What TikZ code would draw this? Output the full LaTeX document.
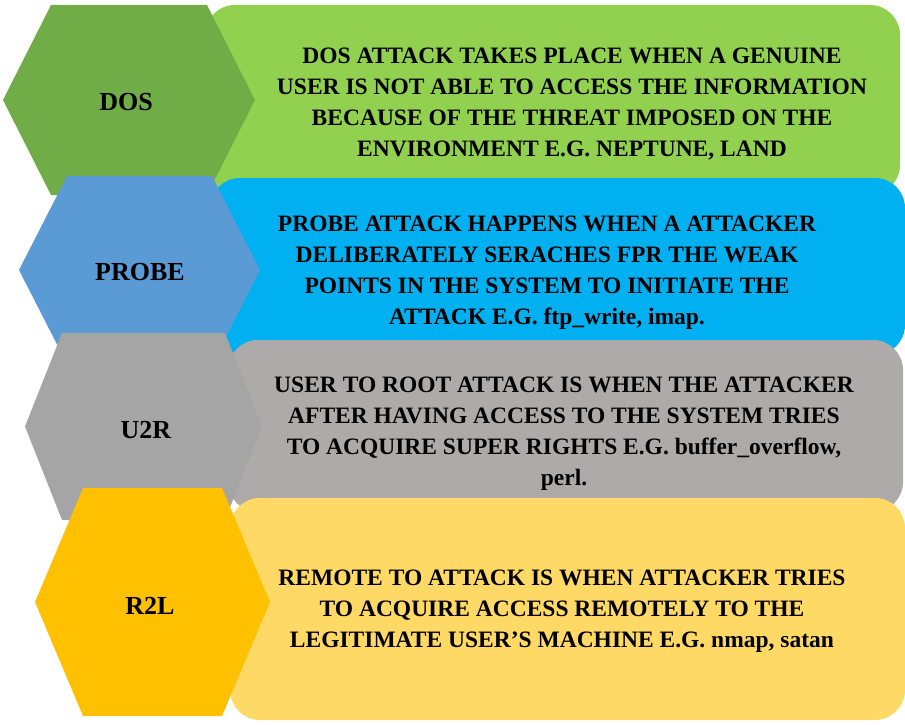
\documentclass[tikz,border=0pt]{standalone}
\usepackage{fontspec}
\setmainfont{Liberation Serif}
\begin{document}
\begin{tikzpicture}[x=1pt,y=-1pt,
 txt/.style={font=\bfseries\fontsize{23.5}{31}\selectfont,align=center,text=black},
 lab/.style={font=\bfseries\fontsize{26}{30}\selectfont,text=black}]
\useasboundingbox (0,0) rectangle (905,725);
\newcommand{\hexa}[6]{% fill, x1, x2, ytop, ybot, inset
 \fill[#1] ({#2+#6},#4) -- ({#3-#6},#4) -- (#3,{(#4+#5)/2}) -- ({#3-#6},#5) -- ({#2+#6},#5) -- (#2,{(#4+#5)/2}) -- cycle;}
\definecolor{g1}{HTML}{92D050}\definecolor{g2}{HTML}{70AD47}
\definecolor{b1}{HTML}{00B0F0}\definecolor{b2}{HTML}{5B9BD5}
\definecolor{a1}{HTML}{AEAAAA}\definecolor{a2}{HTML}{A5A5A5}
\definecolor{y1}{HTML}{FFD966}\definecolor{y2}{HTML}{FFC000}
% row 1
\fill[g1,rounded corners=30] (205,5) rectangle (900,195);
\hexa{g2}{3}{255}{5}{195}{48}
\node[lab] (dos) at (126,102) {DOS};
\node[txt] (t1) at (572,104) {DOS ATTACK TAKES PLACE WHEN A GENUINE\\USER IS NOT ABLE TO ACCESS THE INFORMATION\\BECAUSE OF THE THREAT IMPOSED ON THE\\ENVIRONMENT E.G. NEPTUNE, LAND};
% row 2
\fill[b1,rounded corners=30] (210,178) rectangle (905,355);
\hexa{b2}{19}{260}{176}{364}{48}
\node[lab] (probe) at (140,272) {PROBE};
\node[txt] (t2) at (547,273) {PROBE ATTACK HAPPENS WHEN A ATTACKER\\DELIBERATELY SERACHES FPR THE WEAK\\POINTS IN THE SYSTEM TO INITIATE THE\\ATTACK E.G. ftp\_write, imap.};
% row 3
\fill[a1,rounded corners=30] (228,340) rectangle (903,512);
\hexa{a2}{25}{262}{333}{520}{37}
\node[lab] (u2r) at (146,430) {U2R};
\node[txt] (t3) at (564,434) {USER TO ROOT ATTACK IS WHEN THE ATTACKER\\AFTER HAVING ACCESS TO THE SYSTEM TRIES\\TO ACQUIRE SUPER RIGHTS E.G. buffer\_overflow,\\perl.};
% row 4
\fill[y1,rounded corners=30] (230,498) rectangle (905,720);
\hexa{y2}{35}{270}{488}{716}{48}
\node[lab] (r2l) at (150,606) {R2L};
\node[txt] (t4) at (562,611) {REMOTE TO ATTACK IS WHEN ATTACKER TRIES\\TO ACQUIRE ACCESS REMOTELY TO THE\\LEGITIMATE USER’S MACHINE E.G. nmap, satan};
\end{tikzpicture}
\end{document}
